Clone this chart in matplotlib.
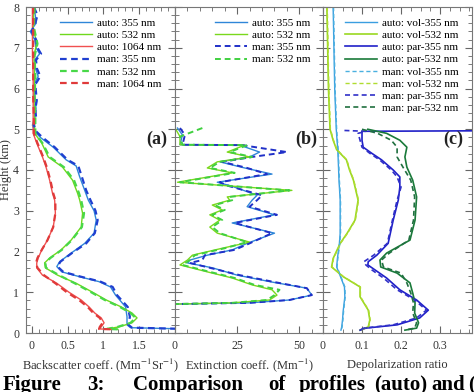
import matplotlib
matplotlib.use("Agg")
import matplotlib.pyplot as plt
from matplotlib.ticker import MultipleLocator

plt.rcParams["font.family"] = ["Liberation Serif", "DejaVu Serif"]
plt.rcParams["mathtext.fontset"] = "stix"

# ---- panel (a): backscatter coefficient (Mm-1 sr-1) ----
h_bsc = [8.0, 7.8, 7.6, 7.4, 7.2, 7.0, 6.85, 6.7, 6.5, 6.3, 6.1, 5.9, 5.7, 5.5, 5.3, 5.1,
         4.95, 4.8, 4.56, 4.25, 4.1, 3.83, 3.5, 3.26, 3.0, 2.77, 2.45, 2.2, 1.96, 1.75,
         1.63, 1.5, 1.38, 1.26, 1.13, 0.93, 0.64, 0.4, 0.2, 0.13, 0.09]
bsc355_auto = [0.02, 0.05, 0.06, -0.02, 0.04, 0.06, 0.11, 0.04, 0.05, 0.09, 0.03, 0.04, 0.05, 0.06, 0.04, 0.01,
               0.04, 0.12, 0.30, 0.48, 0.62, 0.67, 0.74, 0.79, 0.87, 0.90, 0.87, 0.74, 0.55, 0.39,
               0.35, 0.42, 0.67, 0.94, 1.10, 1.17, 1.31, 1.33, 1.33, 1.38, 2.4]
bsc355_man = [0.03, 0.08, 0.05, 0.00, 0.06, 0.08, 0.13, 0.06, 0.07, 0.12, 0.05, 0.06, 0.07, 0.05, 0.06, 0.03,
              0.06, 0.15, 0.32, 0.50, 0.65, 0.70, 0.76, 0.82, 0.89, 0.92, 0.88, 0.76, 0.56, 0.40,
              0.36, 0.44, 0.69, 0.96, 1.13, 1.19, 1.34, 1.37, 1.35, 1.40, 2.4]

h_bsc_low = [8.0, 7.5, 7.1, 6.8, 6.3, 5.8, 5.3, 4.9, 4.66, 4.32, 4.07, 3.75, 3.43, 3.26, 2.94,
             2.6, 2.28, 2.04, 1.84, 1.72, 1.6, 1.42, 1.22, 1.0, 0.81, 0.64, 0.49, 0.37, 0.25,
             0.15, 0.1, 0.09]
bsc532_auto = [0.03, 0.02, 0.07, 0.03, 0.04, 0.03, 0.04, 0.04, 0.14, 0.23, 0.43, 0.57, 0.64, 0.67, 0.71,
               0.69, 0.55, 0.41, 0.25, 0.18, 0.19, 0.36, 0.62, 0.85, 1.04, 1.25, 1.40, 1.47, 1.40,
               1.22, 1.05, 1.20]
bsc532_man = [0.04, 0.03, 0.08, 0.04, 0.05, 0.04, 0.05, 0.05, 0.15, 0.25, 0.45, 0.59, 0.66, 0.69, 0.73,
              0.70, 0.56, 0.42, 0.26, 0.19, 0.20, 0.38, 0.60, 0.83, 1.02, 1.23, 1.38, 1.45, 1.38,
              1.20, 1.05, 1.20]
bsc1064_auto = [0.01, 0.01, 0.01, 0.01, 0.02, 0.02, 0.02, 0.02, 0.07, 0.15, 0.20, 0.25, 0.29, 0.32, 0.33,
                0.30, 0.22, 0.14, 0.09, 0.07, 0.07, 0.15, 0.35, 0.52, 0.69, 0.80, 0.88, 0.97, 1.01,
                0.97, 0.94, 1.12]
bsc1064_man = [0.02, 0.02, 0.02, 0.02, 0.02, 0.02, 0.03, 0.03, 0.08, 0.16, 0.21, 0.26, 0.30, 0.33, 0.33,
               0.30, 0.22, 0.14, 0.08, 0.06, 0.08, 0.17, 0.33, 0.49, 0.66, 0.78, 0.86, 0.95, 0.99,
               0.95, 0.94, 1.12]

# ---- panel (b): extinction coefficient (Mm-1) ----
h_ext355 = [5.03, 4.86, 4.62, 4.61, 4.44, 4.32, 4.2, 4.05, 3.9, 3.7, 3.6, 3.38, 3.26, 3.1,
            2.9, 2.7, 2.45, 2.2, 2.04, 1.91, 1.79, 1.72, 1.6, 1.42, 1.25, 1.1, 0.93, 0.81,
            0.74, 0.71]
ext355_auto = [1, 3, 2, 26, 34, 30, 18, 28, 39, 17, 23, 33, 31, 29,
               40, 23, 40, 29, 23, 13, 6, 5, 15, 25, 39, 53, 55, 46, 30, 0]
ext355_man = [2, 4, 3, 27, 45, 31, 19, 29, 37, 18, 22, 35, 33, 30,
              41, 24, 39, 30, 24, 12, 11, 6, 14, 26, 40, 53, 55, 46, 30, 0]

h_ext532 = [5.03, 4.82, 4.62, 4.61, 4.44, 4.32, 4.2, 4.05, 3.93, 3.7, 3.5, 3.34, 3.26, 3.14,
            3.02, 2.9, 2.77, 2.6, 2.45, 2.23, 2.08, 1.91, 1.79, 1.67, 1.5, 1.35, 1.18, 1.06,
            0.93, 0.81, 0.74, 0.71]
ext532_auto = [0, 2, 2, 28, 21, 30, 17, 13, 23, 1, 47, 21, 22, 15,
               19, 14, 18, 14, 17, 30, 19, 7, 5, 2, 13, 23, 31, 39,
               41, 38, 23, 0]
ext532_man = [11, 2, 3, 29, 22, 31, 18, 14, 24, 2, 46, 22, 23, 16,
              20, 15, 19, 15, 18, 29, 20, 8, 6, 3, 14, 24, 32, 42,
              40, 37, 23, 0]

# ---- panel (c): depolarization ratio ----
h_vol = [8.0, 7.0, 6.0, 5.0, 4.73, 4.5, 4.25, 4.0, 3.75, 3.26, 2.77, 2.45, 2.2, 1.83, 1.62,
         1.38, 1.13, 0.89, 0.56, 0.32, 0.15, 0.07]
vol355_auto = [0.026, 0.028, 0.030, 0.034, 0.036, 0.038, 0.039, 0.040, 0.041, 0.044, 0.044, 0.044,
               0.042, 0.037, 0.035, 0.045, 0.055, 0.056, 0.052, 0.050, 0.048, 0.046]
vol355_man = [0.027, 0.029, 0.031, 0.035, 0.037, 0.039, 0.040, 0.041, 0.042, 0.045, 0.045, 0.045,
              0.043, 0.038, 0.036, 0.046, 0.056, 0.057, 0.053, 0.051, 0.049, 0.047]
vol532_auto = [0.010, 0.012, 0.014, 0.018, 0.026, 0.035, 0.060, 0.068, 0.078, 0.090, 0.082, 0.062,
               0.044, 0.026, 0.022, 0.052, 0.095, 0.095, 0.116, 0.120, 0.116, 0.095]
vol532_man = [0.011, 0.013, 0.015, 0.019, 0.027, 0.036, 0.061, 0.069, 0.079, 0.091, 0.083, 0.063,
              0.045, 0.027, 0.023, 0.053, 0.096, 0.096, 0.117, 0.121, 0.117, 0.096]

h_par355 = [4.97, 4.95, 4.9, 4.73, 4.56, 4.41, 4.25, 4.0, 3.83, 3.58, 3.26, 2.77, 2.2, 1.91,
            1.75, 1.67, 1.55, 1.35, 1.06, 0.81, 0.56, 0.37, 0.2, 0.12, 0.07]
par355_auto = [0.6, 0.10, 0.10, 0.10, 0.103, 0.125, 0.15, 0.18, 0.197, 0.197, 0.193, 0.18, 0.167,
               0.138, 0.116, 0.115, 0.133, 0.163, 0.197, 0.24, 0.27, 0.248, 0.19, 0.11, 0.095]
par355_man = [0.055, 0.11, 0.09, 0.095, 0.10, 0.12, 0.145, 0.175, 0.19, 0.20, 0.19, 0.178, 0.165,
              0.13, 0.105, 0.11, 0.125, 0.155, 0.19, 0.235, 0.265, 0.24, 0.18, 0.105, 0.095]

h_par532 = [5.0, 4.9, 4.73, 4.56, 4.32, 4.07, 3.75, 3.34, 2.77, 2.28, 1.96, 1.79, 1.62, 1.47,
            1.23, 0.98, 0.74, 0.49, 0.25, 0.12, 0.07]
par532_auto = [0.115, 0.163, 0.197, 0.215, 0.21, 0.215, 0.23, 0.24, 0.236, 0.223, 0.163, 0.146,
               0.148, 0.19, 0.223, 0.23, 0.236, 0.235, 0.245, 0.24, 0.21]
par532_man = [0.10, 0.14, 0.175, 0.19, 0.19, 0.205, 0.225, 0.235, 0.232, 0.22, 0.17, 0.15,
              0.155, 0.2, 0.215, 0.225, 0.232, 0.23, 0.24, 0.235, 0.21]

fig = plt.figure(figsize=(4.74, 3.92), dpi=100)
W, H = 474.0, 392.0
y0, y1 = 333.0, 7.0
ax_a = fig.add_axes([26 / W, 1 - y0 / H, 149 / W, (y0 - y1) / H])
ax_b = fig.add_axes([175 / W, 1 - y0 / H, 148 / W, (y0 - y1) / H])
ax_c = fig.add_axes([323 / W, 1 - y0 / H, 149 / W, (y0 - y1) / H])

dash = (0, (3, 2))
ax_a.plot(bsc355_auto, h_bsc, color="#2f86d8", lw=1.0, label="auto: 355 nm")
ax_a.plot(bsc532_auto, h_bsc_low, color="#6fd81c", lw=1.0, label="auto: 532 nm")
ax_a.plot(bsc1064_auto, h_bsc_low, color="#f05050", lw=1.0, label="auto: 1064 nm")
ax_a.plot(bsc355_man, h_bsc, color="#1f3fd0", lw=1.6, ls=dash, label="man: 355 nm")
ax_a.plot(bsc532_man, h_bsc_low, color="#48d848", lw=1.6, ls=dash, label="man: 532 nm")
ax_a.plot(bsc1064_man, h_bsc_low, color="#e03a3a", lw=1.6, ls=dash, label="man: 1064 nm")

ax_b.plot(ext355_auto, h_ext355, color="#2f86d8", lw=1.0, label="auto: 355 nm")
ax_b.plot(ext532_auto, h_ext532, color="#7ad81c", lw=1.0, label="auto: 532 nm")
ax_b.plot(ext355_man, h_ext355, color="#2030c8", lw=1.4, ls=dash, label="man: 355 nm")
ax_b.plot(ext532_man, h_ext532, color="#40d040", lw=1.4, ls=dash, label="man: 532 nm")

ax_c.plot(vol355_auto, h_vol, color="#3a9ee0", lw=1.0, label="auto: vol-355 nm")
ax_c.plot(vol532_auto, h_vol, color="#9ad820", lw=1.2, label="auto: vol-532 nm")
ax_c.plot(par355_auto, h_par355, color="#2020c8", lw=1.2, label="auto: par-355 nm")
ax_c.plot(par532_auto, h_par532, color="#1a7a3a", lw=1.2, label="auto: par-532 nm")
ax_c.plot(vol355_man, h_vol, color="#4ab0e0", lw=1.0, ls=dash, label="man: vol-355 nm")
ax_c.plot(vol532_man, h_vol, color="#b0dc30", lw=1.0, ls=dash, label="man: vol-532 nm")
ax_c.plot(par355_man, h_par355, color="#3030c8", lw=1.2, ls=dash, label="man: par-355 nm")
ax_c.plot(par532_man, h_par532, color="#207040", lw=1.2, ls=dash, label="man: par-532 nm")

ax_a.set_xlim(-0.08, 2.0)
ax_b.set_xlim(0, 59.5)
ax_c.set_xlim(0, 0.382)
ax_a.set_xticks([0, 0.5, 1, 1.5])
ax_a.set_xticklabels(["0", "0.5", "1", "1.5"])
ax_b.set_xticks([0, 25, 50])
ax_c.set_xticks([0, 0.1, 0.2, 0.3])
ax_c.set_xticklabels(["0", "0.1", "0.2", "0.3"])
ax_a.xaxis.set_minor_locator(MultipleLocator(0.1))
ax_b.xaxis.set_minor_locator(MultipleLocator(5))
ax_c.xaxis.set_minor_locator(MultipleLocator(0.025))

for ax in (ax_a, ax_b, ax_c):
    ax.set_ylim(0, 8)
    ax.yaxis.set_major_locator(MultipleLocator(1))
    ax.yaxis.set_minor_locator(MultipleLocator(0.2))
    ax.tick_params(which="both", direction="in", top=True, right=True,
                   colors="#666666", labelcolor="#333333", labelsize=8.5)
    ax.tick_params(which="major", length=5, width=0.8, pad=5)
    ax.tick_params(which="minor", length=3, width=0.6)
    for s in ax.spines.values():
        s.set_color("#777777")
        s.set_linewidth(0.8)
ax_b.tick_params(labelleft=False)
ax_c.tick_params(labelleft=False)

lab = dict(fontsize=9, color="#333333")
ax_a.set_xlabel(r"Backscatter coeff. (Mm$^{-1}$Sr$^{-1}$)", labelpad=3, **lab)
ax_b.set_xlabel(r"Extinction coeff. (Mm$^{-1}$)", labelpad=3, **lab)
ax_c.set_xlabel("Depolarization ratio", labelpad=5, **lab)
ax_a.set_ylabel("Height (km)", labelpad=1, **lab)

leg_kw = dict(frameon=False, fontsize=8, handlelength=2.9, handletextpad=0.4,
              labelspacing=0.22, borderpad=0, borderaxespad=0, loc="upper left",
              bbox_transform=fig.transFigure)
ax_a.legend(bbox_to_anchor=(60 / W, 1 - 18 / H), **leg_kw)
ax_b.legend(bbox_to_anchor=(215 / W, 1 - 18 / H), **leg_kw)
ax_c.legend(bbox_to_anchor=(345 / W, 1 - 18 / H), **leg_kw)

for ax, txt, x in ((ax_a, "(a)", 157), (ax_b, "(b)", 306), (ax_c, "(c)", 453)):
    fig.text(x / W, 1 - 139 / H, txt, fontsize=13, fontweight="bold",
             ha="center", va="center", color="#222222")

# caption, cut off by the bottom edge as in the scan
caption = [("Figure", 3), ("3:", 87), ("Comparison", 133), ("of", 268),
           ("profiles", 299), ("(auto)", 374), ("and", 431), ("(man)", 468)]
for word, x in caption:
    fig.text(x / W, 1 - 390 / H, word, fontsize=15, fontweight="bold",
             ha="left", va="baseline", color="black")

fig.savefig("out.png", dpi=100)
